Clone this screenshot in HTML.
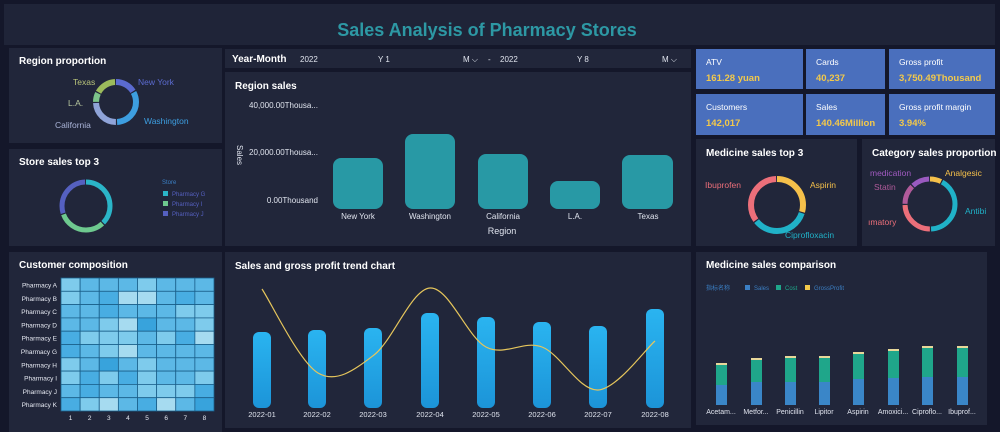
<!DOCTYPE html>
<html><head><meta charset="utf-8"><style>
html,body{margin:0;padding:0;background:#14172a;width:1000px;height:432px;overflow:hidden}
svg{display:block;font-family:"Liberation Sans","Noto Sans CJK SC",sans-serif}
.t{fill:#fff;font-weight:bold;font-size:10px}
</style></head><body>
<svg id="s" width="1000" height="432" viewBox="0 0 1000 432">
<rect x="0" y="0" width="1000" height="432" fill="#14172a"/>
<rect x="4" y="4" width="991" height="41" fill="#1f2438"/>
<text x="487" y="36" text-anchor="middle" font-size="18" font-weight="bold" fill="#2d98a4">Sales Analysis of Pharmacy Stores</text>
<rect x="9" y="48" width="213" height="95" fill="#21263a"/>
<rect x="9" y="149" width="213" height="97" fill="#21263a"/>
<rect x="9" y="252" width="213" height="180" fill="#21263a"/>
<rect x="225" y="49" width="466" height="19" fill="#21263a"/>
<rect x="225" y="72" width="466" height="174" fill="#21263a"/>
<rect x="225" y="252" width="466" height="176" fill="#21263a"/>
<rect x="696" y="139" width="161" height="107" fill="#21263a"/>
<rect x="862" y="139" width="133" height="107" fill="#21263a"/>
<rect x="696" y="252" width="291" height="173" fill="#21263a"/>
<g fill="#4a6fbd">
<rect x="696" y="49" width="107" height="40"/><rect x="806" y="49" width="79" height="40"/><rect x="889" y="49" width="106" height="40"/>
<rect x="696" y="94" width="107" height="41"/><rect x="806" y="94" width="79" height="41"/><rect x="889" y="94" width="106" height="41"/>
</g>
<g font-size="8.5" fill="#fff">
<text x="706" y="65">ATV</text><text x="816" y="65">Cards</text><text x="899" y="65">Gross profit</text>
<text x="706" y="110">Customers</text><text x="816" y="110">Sales</text><text x="899" y="110">Gross profit margin</text>
</g>
<g font-size="9.5" font-weight="bold" fill="#f3c94a">
<text x="706" y="81">161.28 yuan</text><text x="816" y="81">40,237</text><text x="899" y="81">3,750.49Thousand</text>
<text x="706" y="126">142,017</text><text x="816" y="126">140.46Million</text><text x="899" y="126">3.94%</text>
</g>
<text class="t" x="19" y="64">Region proportion</text>
<text class="t" x="19" y="165">Store sales top 3</text>
<text class="t" x="19" y="268">Customer composition</text>
<text class="t" x="235" y="89">Region sales</text>
<text class="t" x="235" y="269">Sales and gross profit trend chart</text>
<text class="t" x="706" y="156">Medicine sales top 3</text>
<text class="t" x="872" y="156">Category sales proportion</text>
<text class="t" x="706" y="268">Medicine sales comparison</text>
<text class="t" x="232" y="62">Year-Month</text>
<g font-size="8" fill="#e0e4ee"><text x="300" y="62">2022</text><text x="378" y="62">Y 1</text><text x="463" y="62">M ⌵</text><text x="488" y="62">-</text><text x="500" y="62">2022</text><text x="577" y="62">Y 8</text><text x="662" y="62">M ⌵</text></g>
<g font-size="8" fill="#e0e4ee">
<text x="318" y="108" text-anchor="end">40,000.00Thousa...</text>
<text x="318" y="155" text-anchor="end">20,000.00Thousa...</text>
<text x="318" y="203" text-anchor="end">0.00Thousand</text>
<text transform="translate(237,155) rotate(90)" text-anchor="middle">Sales</text>
<text x="358" y="219" text-anchor="middle">New York</text><text x="430" y="219" text-anchor="middle">Washington</text><text x="503" y="219" text-anchor="middle">California</text><text x="575" y="219" text-anchor="middle">L.A.</text><text x="648" y="219" text-anchor="middle">Texas</text>
<text x="502" y="234" text-anchor="middle" font-size="9">Region</text>
</g>
<g fill="#2899a5">
<rect x="333" y="158" width="50" height="51" rx="8"/><rect x="405" y="134" width="50" height="75" rx="8"/><rect x="478" y="154" width="50" height="55" rx="8"/><rect x="550" y="181" width="50" height="28" rx="8"/><rect x="622" y="155" width="51" height="54" rx="8"/>
</g>
<defs><linearGradient id="bg" x1="0" y1="0" x2="0" y2="1"><stop offset="0" stop-color="#2ab4f0"/><stop offset="1" stop-color="#1c94d8"/></linearGradient></defs>
<g id="trend"></g>
<path id="ln" d="" fill="none" stroke="#e6c65c" stroke-width="1.2"/>
<g font-size="6" fill="#3b7fc4"><text x="706" y="290">指标名称</text><rect x="745" y="285" width="5" height="5"/><text x="754" y="290">Sales</text><rect x="776" y="285" width="5" height="5" fill="#1fa68a"/><text x="785" y="290" fill="#1fa68a">Cost</text><rect x="805" y="285" width="5" height="5" fill="#f3c94a"/><text x="814" y="290" fill="#3b7fc4">GrossProfit</text></g>
<g id="cmp"></g>
<g font-size="6" fill="#5560c0"><text x="162" y="184" fill="#3b7fc4">Store</text>
<rect x="163" y="191" width="5" height="5" fill="#2bb5c8"/><text x="172" y="196">Pharmacy G</text>
<rect x="163" y="201" width="5" height="5" fill="#6ec98f"/><text x="172" y="206">Pharmacy I</text>
<rect x="163" y="211" width="5" height="5" fill="#5560c0"/><text x="172" y="216">Pharmacy J</text></g>
<g id="donuts"></g>
<g font-size="8.5">
<text x="73" y="85" fill="#b9c47a">Texas</text><text x="68" y="106" fill="#b8c8a0">L.A.</text><text x="55" y="128" fill="#aab4d8">California</text>
<text x="138" y="85" fill="#5b6bd0">New York</text><text x="144" y="124" fill="#3d9ee0">Washington</text>
<text x="705" y="188" fill="#ec6f7a">Ibuprofen</text><text x="810" y="188" fill="#f5c04a">Aspirin</text><text x="785" y="238" fill="#20b2c8">Ciprofloxacin</text>
<text x="870" y="176" fill="#a05ac0">medication</text><text x="874" y="190" fill="#b05a9a">Statin</text><text x="868" y="225" fill="#ec6f7a">ımatory</text>
<text x="945" y="176" fill="#f5c04a">Analgesic</text><text x="965" y="214" fill="#20b2c8">Antibi</text>
</g>
<g id="heat"></g>
</svg>
<script>
var NS="http://www.w3.org/2000/svg",s=document.getElementById('s');
function el(n,a,p,t){var e=document.createElementNS(NS,n);for(var k in a)e.setAttribute(k,a[k]);if(t)e.textContent=t;(p||s).appendChild(e);return e;}
var D=document.getElementById('donuts');
function donut(cx,cy,r,w,segs){var C=2*Math.PI*r,st=0;segs.forEach(function(g){var L=g[0]*C;el('circle',{cx:cx,cy:cy,r:r,fill:'none',stroke:g[1],'stroke-width':w,'stroke-dasharray':Math.max(L-1.2,0)+' '+C,'stroke-dashoffset':-st,transform:'rotate(-90 '+cx+' '+cy+')'},D);st+=L;});}
donut(116,102,20,6,[[.17,'#5b6bd0'],[.33,'#3d9ee0'],[.25,'#8fa3d8'],[.08,'#7cc48a'],[.17,'#9cbb5c']]);
donut(86,206,24,5,[[.38,'#2bb5c8'],[.32,'#6ec98f'],[.30,'#5560c0']]);
donut(777,205,26,6,[[.3,'#f5c04a'],[.35,'#20b2c8'],[.35,'#ec6f7a']]);
donut(930,204,25,5,[[.08,'#f5c04a'],[.42,'#20b2c8'],[.25,'#ec6f7a'],[.13,'#b05a9a'],[.12,'#9a5ac0']]);
var T=document.getElementById('trend'),xs=[262,317,373,430,486,542,598,655],tp=[332,330,328,313,317,322,326,309];
xs.forEach(function(x,i){el('rect',{x:x-9,y:tp[i],width:18,height:408-tp[i],rx:6,fill:'url(#bg)'},T);el('text',{x:x,y:417,'text-anchor':'middle','font-size':'7.5',fill:'#e0e4ee'},T,'2022-0'+(i+1));});
var P=[[262,289],[318,373],[374,355],[430,288],[486,347],[542,347],[598,390],[655,341]],d='M'+P[0];
for(var i=0;i<P.length-1;i++){var p0=P[Math.max(i-1,0)],p1=P[i],p2=P[i+1],p3=P[Math.min(i+2,P.length-1)];
d+=' C'+(p1[0]+(p2[0]-p0[0])/6)+','+(p1[1]+(p2[1]-p0[1])/6)+' '+(p2[0]-(p3[0]-p1[0])/6)+','+(p2[1]-(p3[1]-p1[1])/6)+' '+p2[0]+','+p2[1];}
document.getElementById('ln').setAttribute('d',d);
var Cm=document.getElementById('cmp'),cx=[721,756,790,824,858,893,927,962],bt=[385,382,382,382,379,378,377,377],tt=[365,360,358,358,354,351,348,348],nm=['Acetam...','Metfor...','Penicillin','Lipitor','Aspirin','Amoxici...','Ciproflo...','Ibuprof...'];
cx.forEach(function(x,i){el('rect',{x:x-5,y:tt[i]-2,width:11,height:2,fill:'#e8d89a'},Cm);el('rect',{x:x-5,y:tt[i],width:11,height:bt[i]-tt[i],fill:'#1fa68a'},Cm);el('rect',{x:x-5,y:bt[i],width:11,height:405-bt[i],fill:'#3a86c8'},Cm);el('text',{x:x,y:414,'text-anchor':'middle','font-size':'7',fill:'#e0e4ee'},Cm,nm[i]);});
var H=document.getElementById('heat'),cols=['#7ecbec','#5cb8e6','#48ade2','#a6dbf0','#38a3dc'];
var pat=[[0,1,1,1,0,1,1,1],[0,1,2,3,3,1,2,1],[1,1,2,1,1,1,0,0],[1,1,0,3,4,1,1,0],[2,0,0,0,1,0,2,3],[2,1,0,3,1,1,1,1],[0,1,4,1,0,1,1,1],[0,2,0,2,0,1,1,0],[1,2,1,1,0,0,0,2],[2,0,3,1,2,3,1,4]];
var names=['Pharmacy A','Pharmacy B','Pharmacy C','Pharmacy D','Pharmacy E','Pharmacy G','Pharmacy H','Pharmacy I','Pharmacy J','Pharmacy K'];
var cw=153/8,rh=133/10;
for(var r=0;r<10;r++){el('text',{x:57,y:278+r*rh+9.5,'text-anchor':'end','font-size':'6.5',fill:'#e6e9f2'},H,names[r]);for(var c=0;c<8;c++)el('rect',{x:61+c*cw,y:278+r*rh,width:cw,height:rh,fill:cols[pat[r][c]],stroke:'#1a5f8a','stroke-width':0.8},H);}
for(var c=0;c<8;c++)el('text',{x:61+c*cw+cw/2,y:420,'text-anchor':'middle','font-size':'6.5',fill:'#e6e9f2'},H,''+(c+1));
</script>
</body></html>
